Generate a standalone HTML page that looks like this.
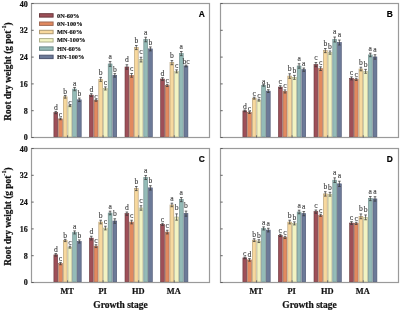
<!DOCTYPE html>
<html><head><meta charset="utf-8"><style>
html,body{margin:0;padding:0;background:#fff;width:400px;height:311px;overflow:hidden;}
svg{display:block;will-change:transform;}
</style></head><body>
<svg width="400" height="311" viewBox="0 0 400 311"><rect width="400" height="311" fill="#fff"/><rect x="53.90" y="112.55" width="3.80" height="24.45" fill="#9e4f58" stroke="#6a3a3e" stroke-width="0.6"/><path d="M55.80 113.69V111.40M54.50 111.40H57.10M54.50 113.69H57.10" stroke="#3a3a3a" stroke-width="0.75" fill="none"/><text x="55.80" y="110.00" font-family='"Liberation Serif", serif' font-size="7.6" fill="#383838" stroke="#383838" stroke-width="0.1" text-anchor="middle">d</text><rect x="58.60" y="118.91" width="3.80" height="18.09" fill="#e2895e" stroke="#a06a55" stroke-width="0.6"/><path d="M60.50 119.77V118.05M59.20 118.05H61.80M59.20 119.77H61.80" stroke="#3a3a3a" stroke-width="0.75" fill="none"/><text x="60.50" y="117.00" font-family='"Liberation Serif", serif' font-size="7.6" fill="#383838" stroke="#383838" stroke-width="0.1" text-anchor="middle">c</text><rect x="63.30" y="96.80" width="3.80" height="40.20" fill="#f7d89e" stroke="#b09a72" stroke-width="0.6"/><path d="M65.20 98.15V95.45M63.90 95.45H66.50M63.90 98.15H66.50" stroke="#3a3a3a" stroke-width="0.75" fill="none"/><text x="65.20" y="93.80" font-family='"Liberation Serif", serif' font-size="7.6" fill="#383838" stroke="#383838" stroke-width="0.1" text-anchor="middle">b</text><rect x="68.00" y="105.84" width="3.80" height="31.16" fill="#f2f3c2" stroke="#aeb08a" stroke-width="0.6"/><path d="M69.90 106.64V105.05M68.60 105.05H71.20M68.60 106.64H71.20" stroke="#3a3a3a" stroke-width="0.75" fill="none"/><text x="69.90" y="104.50" font-family='"Liberation Serif", serif' font-size="7.6" fill="#383838" stroke="#383838" stroke-width="0.1" text-anchor="middle">c</text><rect x="72.70" y="89.09" width="3.80" height="47.91" fill="#94bbb7" stroke="#6a8886" stroke-width="0.6"/><path d="M74.60 90.71V87.48M73.30 87.48H75.90M73.30 90.71H75.90" stroke="#3a3a3a" stroke-width="0.75" fill="none"/><text x="74.60" y="85.50" font-family='"Liberation Serif", serif' font-size="7.6" fill="#383838" stroke="#383838" stroke-width="0.1" text-anchor="middle">a</text><rect x="77.40" y="99.81" width="3.80" height="37.19" fill="#6c7a98" stroke="#4c5470" stroke-width="0.6"/><path d="M79.30 101.53V98.10M78.00 98.10H80.60M78.00 101.53H80.60" stroke="#3a3a3a" stroke-width="0.75" fill="none"/><text x="79.30" y="96.00" font-family='"Liberation Serif", serif' font-size="7.6" fill="#383838" stroke="#383838" stroke-width="0.1" text-anchor="middle">b</text><rect x="89.40" y="95.12" width="3.80" height="41.88" fill="#9e4f58" stroke="#6a3a3e" stroke-width="0.6"/><path d="M91.30 96.53V93.72M90.00 93.72H92.60M90.00 96.53H92.60" stroke="#3a3a3a" stroke-width="0.75" fill="none"/><text x="91.30" y="92.00" font-family='"Liberation Serif", serif' font-size="7.6" fill="#383838" stroke="#383838" stroke-width="0.1" text-anchor="middle">d</text><rect x="94.10" y="100.48" width="3.80" height="36.52" fill="#e2895e" stroke="#a06a55" stroke-width="0.6"/><path d="M96.00 101.28V99.69M94.70 99.69H97.30M94.70 101.28H97.30" stroke="#3a3a3a" stroke-width="0.75" fill="none"/><text x="96.00" y="99.00" font-family='"Liberation Serif", serif' font-size="7.6" fill="#383838" stroke="#383838" stroke-width="0.1" text-anchor="middle">c</text><rect x="98.80" y="79.38" width="3.80" height="57.62" fill="#f7d89e" stroke="#b09a72" stroke-width="0.6"/><path d="M100.70 81.35V77.41M99.40 77.41H102.00M99.40 81.35H102.00" stroke="#3a3a3a" stroke-width="0.75" fill="none"/><text x="100.70" y="75.00" font-family='"Liberation Serif", serif' font-size="7.6" fill="#383838" stroke="#383838" stroke-width="0.1" text-anchor="middle">b</text><rect x="103.50" y="88.42" width="3.80" height="48.58" fill="#f2f3c2" stroke="#aeb08a" stroke-width="0.6"/><path d="M105.40 89.97V86.88M104.10 86.88H106.70M104.10 89.97H106.70" stroke="#3a3a3a" stroke-width="0.75" fill="none"/><text x="105.40" y="85.00" font-family='"Liberation Serif", serif' font-size="7.6" fill="#383838" stroke="#383838" stroke-width="0.1" text-anchor="middle">c</text><rect x="108.20" y="63.97" width="3.80" height="73.03" fill="#94bbb7" stroke="#6a8886" stroke-width="0.6"/><path d="M110.10 66.34V61.60M108.80 61.60H111.40M108.80 66.34H111.40" stroke="#3a3a3a" stroke-width="0.75" fill="none"/><text x="110.10" y="58.70" font-family='"Liberation Serif", serif' font-size="7.6" fill="#383838" stroke="#383838" stroke-width="0.1" text-anchor="middle">a</text><rect x="112.90" y="75.36" width="3.80" height="61.64" fill="#6c7a98" stroke="#4c5470" stroke-width="0.6"/><path d="M114.80 77.10V73.62M113.50 73.62H116.10M113.50 77.10H116.10" stroke="#3a3a3a" stroke-width="0.75" fill="none"/><text x="114.80" y="71.50" font-family='"Liberation Serif", serif' font-size="7.6" fill="#383838" stroke="#383838" stroke-width="0.1" text-anchor="middle">b</text><rect x="125.00" y="66.98" width="3.80" height="70.02" fill="#9e4f58" stroke="#6a3a3e" stroke-width="0.6"/><path d="M126.90 69.23V64.74M125.60 64.74H128.20M125.60 69.23H128.20" stroke="#3a3a3a" stroke-width="0.75" fill="none"/><text x="126.90" y="62.00" font-family='"Liberation Serif", serif' font-size="7.6" fill="#383838" stroke="#383838" stroke-width="0.1" text-anchor="middle">d</text><rect x="129.70" y="75.36" width="3.80" height="61.64" fill="#e2895e" stroke="#a06a55" stroke-width="0.6"/><path d="M131.60 77.23V73.49M130.30 73.49H132.90M130.30 77.23H132.90" stroke="#3a3a3a" stroke-width="0.75" fill="none"/><text x="131.60" y="71.20" font-family='"Liberation Serif", serif' font-size="7.6" fill="#383838" stroke="#383838" stroke-width="0.1" text-anchor="middle">c</text><rect x="134.40" y="47.56" width="3.80" height="89.44" fill="#f7d89e" stroke="#b09a72" stroke-width="0.6"/><path d="M136.30 49.60V45.51M135.00 45.51H137.60M135.00 49.60H137.60" stroke="#3a3a3a" stroke-width="0.75" fill="none"/><text x="136.30" y="43.00" font-family='"Liberation Serif", serif' font-size="7.6" fill="#383838" stroke="#383838" stroke-width="0.1" text-anchor="middle">b</text><rect x="139.10" y="59.61" width="3.80" height="77.39" fill="#f2f3c2" stroke="#aeb08a" stroke-width="0.6"/><path d="M141.00 61.96V57.27M139.70 57.27H142.30M139.70 61.96H142.30" stroke="#3a3a3a" stroke-width="0.75" fill="none"/><text x="141.00" y="54.40" font-family='"Liberation Serif", serif' font-size="7.6" fill="#383838" stroke="#383838" stroke-width="0.1" text-anchor="middle">c</text><rect x="143.80" y="39.51" width="3.80" height="97.49" fill="#94bbb7" stroke="#6a8886" stroke-width="0.6"/><path d="M145.70 41.77V37.26M144.40 37.26H147.00M144.40 41.77H147.00" stroke="#3a3a3a" stroke-width="0.75" fill="none"/><text x="145.70" y="34.50" font-family='"Liberation Serif", serif' font-size="7.6" fill="#383838" stroke="#383838" stroke-width="0.1" text-anchor="middle">a</text><rect x="148.50" y="48.89" width="3.80" height="88.11" fill="#6c7a98" stroke="#4c5470" stroke-width="0.6"/><path d="M150.40 50.87V46.92M149.10 46.92H151.70M149.10 50.87H151.70" stroke="#3a3a3a" stroke-width="0.75" fill="none"/><text x="150.40" y="44.50" font-family='"Liberation Serif", serif' font-size="7.6" fill="#383838" stroke="#383838" stroke-width="0.1" text-anchor="middle">b</text><rect x="160.60" y="79.04" width="3.80" height="57.96" fill="#9e4f58" stroke="#6a3a3e" stroke-width="0.6"/><path d="M162.50 80.42V77.67M161.20 77.67H163.80M161.20 80.42H163.80" stroke="#3a3a3a" stroke-width="0.75" fill="none"/><text x="162.50" y="76.00" font-family='"Liberation Serif", serif' font-size="7.6" fill="#383838" stroke="#383838" stroke-width="0.1" text-anchor="middle">d</text><rect x="165.30" y="85.41" width="3.80" height="51.59" fill="#e2895e" stroke="#a06a55" stroke-width="0.6"/><path d="M167.20 86.49V84.33M165.90 84.33H168.50M165.90 86.49H168.50" stroke="#3a3a3a" stroke-width="0.75" fill="none"/><text x="167.20" y="83.00" font-family='"Liberation Serif", serif' font-size="7.6" fill="#383838" stroke="#383838" stroke-width="0.1" text-anchor="middle">c</text><rect x="170.00" y="62.63" width="3.80" height="74.37" fill="#f7d89e" stroke="#b09a72" stroke-width="0.6"/><path d="M171.90 64.71V60.55M170.60 60.55H173.20M170.60 64.71H173.20" stroke="#3a3a3a" stroke-width="0.75" fill="none"/><text x="171.90" y="58.00" font-family='"Liberation Serif", serif' font-size="7.6" fill="#383838" stroke="#383838" stroke-width="0.1" text-anchor="middle">b</text><rect x="174.70" y="71.34" width="3.80" height="65.66" fill="#f2f3c2" stroke="#aeb08a" stroke-width="0.6"/><path d="M176.60 72.84V69.84M175.30 69.84H177.90M175.30 72.84H177.90" stroke="#3a3a3a" stroke-width="0.75" fill="none"/><text x="176.60" y="68.00" font-family='"Liberation Serif", serif' font-size="7.6" fill="#383838" stroke="#383838" stroke-width="0.1" text-anchor="middle">c</text><rect x="179.40" y="53.59" width="3.80" height="83.41" fill="#94bbb7" stroke="#6a8886" stroke-width="0.6"/><path d="M181.30 55.65V51.52M180.00 51.52H182.60M180.00 55.65H182.60" stroke="#3a3a3a" stroke-width="0.75" fill="none"/><text x="181.30" y="49.00" font-family='"Liberation Serif", serif' font-size="7.6" fill="#383838" stroke="#383838" stroke-width="0.1" text-anchor="middle">a</text><rect x="184.10" y="65.98" width="3.80" height="71.02" fill="#6c7a98" stroke="#4c5470" stroke-width="0.6"/><path d="M186.00 66.87V65.09M184.70 65.09H187.30M184.70 66.87H187.30" stroke="#3a3a3a" stroke-width="0.75" fill="none"/><text x="186.00" y="64.00" font-family='"Liberation Serif", serif' font-size="7.6" fill="#383838" stroke="#383838" stroke-width="0.1" text-anchor="middle">bc</text><rect x="31.5" y="3.5" width="178" height="134" fill="none" stroke="#9a9a9a" stroke-width="1.2"/><path d="M31.5 137.50h2.2" stroke="#555" stroke-width="0.9"/><text x="27.8" y="140.30" font-family='"Liberation Serif", serif' font-weight="bold" font-size="8" fill="#111" stroke="#111" stroke-width="0.2" text-anchor="end">0</text><path d="M31.5 110.70h2.2" stroke="#555" stroke-width="0.9"/><text x="27.8" y="113.50" font-family='"Liberation Serif", serif' font-weight="bold" font-size="8" fill="#111" stroke="#111" stroke-width="0.2" text-anchor="end">8</text><path d="M31.5 83.90h2.2" stroke="#555" stroke-width="0.9"/><text x="27.8" y="86.70" font-family='"Liberation Serif", serif' font-weight="bold" font-size="8" fill="#111" stroke="#111" stroke-width="0.2" text-anchor="end">16</text><path d="M31.5 57.10h2.2" stroke="#555" stroke-width="0.9"/><text x="27.8" y="59.90" font-family='"Liberation Serif", serif' font-weight="bold" font-size="8" fill="#111" stroke="#111" stroke-width="0.2" text-anchor="end">24</text><path d="M31.5 30.30h2.2" stroke="#555" stroke-width="0.9"/><text x="27.8" y="33.10" font-family='"Liberation Serif", serif' font-weight="bold" font-size="8" fill="#111" stroke="#111" stroke-width="0.2" text-anchor="end">32</text><path d="M31.5 3.50h2.2" stroke="#555" stroke-width="0.9"/><text x="27.8" y="7.20" font-family='"Liberation Serif", serif' font-weight="bold" font-size="8" fill="#111" stroke="#111" stroke-width="0.2" text-anchor="end">40</text><path d="M67.55 137.5v-2.2" stroke="#555" stroke-width="0.8"/><path d="M103.05 137.5v-2.2" stroke="#555" stroke-width="0.8"/><path d="M138.65 137.5v-2.2" stroke="#555" stroke-width="0.8"/><path d="M174.25 137.5v-2.2" stroke="#555" stroke-width="0.8"/><text x="204.7" y="16.6" font-family='"Liberation Sans", sans-serif' font-weight="bold" font-size="8.4" fill="#000" stroke="#000" stroke-width="0.2" text-anchor="end">A</text><rect x="242.90" y="110.87" width="3.80" height="26.13" fill="#9e4f58" stroke="#6a3a3e" stroke-width="0.6"/><path d="M244.80 111.71V110.03M243.50 110.03H246.10M243.50 111.71H246.10" stroke="#3a3a3a" stroke-width="0.75" fill="none"/><text x="244.80" y="109.00" font-family='"Liberation Serif", serif' font-size="7.6" fill="#383838" stroke="#383838" stroke-width="0.1" text-anchor="middle">d</text><rect x="247.60" y="112.55" width="3.80" height="24.45" fill="#e2895e" stroke="#a06a55" stroke-width="0.6"/><path d="M249.50 113.47V111.62M248.20 111.62H250.80M248.20 113.47H250.80" stroke="#3a3a3a" stroke-width="0.75" fill="none"/><text x="249.50" y="110.50" font-family='"Liberation Serif", serif' font-size="7.6" fill="#383838" stroke="#383838" stroke-width="0.1" text-anchor="middle">c</text><rect x="252.30" y="98.14" width="3.80" height="38.86" fill="#f7d89e" stroke="#b09a72" stroke-width="0.6"/><path d="M254.20 99.10V97.18M252.90 97.18H255.50M252.90 99.10H255.50" stroke="#3a3a3a" stroke-width="0.75" fill="none"/><text x="254.20" y="96.00" font-family='"Liberation Serif", serif' font-size="7.6" fill="#383838" stroke="#383838" stroke-width="0.1" text-anchor="middle">c</text><rect x="257.00" y="100.15" width="3.80" height="36.85" fill="#f2f3c2" stroke="#aeb08a" stroke-width="0.6"/><path d="M258.90 101.12V99.18M257.60 99.18H260.20M257.60 101.12H260.20" stroke="#3a3a3a" stroke-width="0.75" fill="none"/><text x="258.90" y="98.00" font-family='"Liberation Serif", serif' font-size="7.6" fill="#383838" stroke="#383838" stroke-width="0.1" text-anchor="middle">c</text><rect x="261.70" y="85.41" width="3.80" height="51.59" fill="#94bbb7" stroke="#6a8886" stroke-width="0.6"/><path d="M263.60 86.21V84.61M262.30 84.61H264.90M262.30 86.21H264.90" stroke="#3a3a3a" stroke-width="0.75" fill="none"/><text x="263.60" y="84.00" font-family='"Liberation Serif", serif' font-size="7.6" fill="#383838" stroke="#383838" stroke-width="0.1" text-anchor="middle">a</text><rect x="266.40" y="91.11" width="3.80" height="45.89" fill="#6c7a98" stroke="#4c5470" stroke-width="0.6"/><path d="M268.30 92.50V89.71M267.00 89.71H269.60M267.00 92.50H269.60" stroke="#3a3a3a" stroke-width="0.75" fill="none"/><text x="268.30" y="88.00" font-family='"Liberation Serif", serif' font-size="7.6" fill="#383838" stroke="#383838" stroke-width="0.1" text-anchor="middle">b</text><rect x="278.40" y="87.09" width="3.80" height="49.91" fill="#9e4f58" stroke="#6a3a3e" stroke-width="0.6"/><path d="M280.30 88.47V85.70M279.00 85.70H281.60M279.00 88.47H281.60" stroke="#3a3a3a" stroke-width="0.75" fill="none"/><text x="280.30" y="84.00" font-family='"Liberation Serif", serif' font-size="7.6" fill="#383838" stroke="#383838" stroke-width="0.1" text-anchor="middle">c</text><rect x="283.10" y="91.44" width="3.80" height="45.56" fill="#e2895e" stroke="#a06a55" stroke-width="0.6"/><path d="M285.00 92.99V89.89M283.70 89.89H286.30M283.70 92.99H286.30" stroke="#3a3a3a" stroke-width="0.75" fill="none"/><text x="285.00" y="88.00" font-family='"Liberation Serif", serif' font-size="7.6" fill="#383838" stroke="#383838" stroke-width="0.1" text-anchor="middle">c</text><rect x="287.80" y="76.03" width="3.80" height="60.97" fill="#f7d89e" stroke="#b09a72" stroke-width="0.6"/><path d="M289.70 78.29V73.77M288.40 73.77H291.00M288.40 78.29H291.00" stroke="#3a3a3a" stroke-width="0.75" fill="none"/><text x="289.70" y="71.00" font-family='"Liberation Serif", serif' font-size="7.6" fill="#383838" stroke="#383838" stroke-width="0.1" text-anchor="middle">b</text><rect x="292.50" y="77.37" width="3.80" height="59.63" fill="#f2f3c2" stroke="#aeb08a" stroke-width="0.6"/><path d="M294.40 79.34V75.40M293.10 75.40H295.70M293.10 79.34H295.70" stroke="#3a3a3a" stroke-width="0.75" fill="none"/><text x="294.40" y="73.00" font-family='"Liberation Serif", serif' font-size="7.6" fill="#383838" stroke="#383838" stroke-width="0.1" text-anchor="middle">b</text><rect x="297.20" y="65.98" width="3.80" height="71.02" fill="#94bbb7" stroke="#6a8886" stroke-width="0.6"/><path d="M299.10 68.22V63.74M297.80 63.74H300.40M297.80 68.22H300.40" stroke="#3a3a3a" stroke-width="0.75" fill="none"/><text x="299.10" y="61.00" font-family='"Liberation Serif", serif' font-size="7.6" fill="#383838" stroke="#383838" stroke-width="0.1" text-anchor="middle">a</text><rect x="301.90" y="69.66" width="3.80" height="67.34" fill="#6c7a98" stroke="#4c5470" stroke-width="0.6"/><path d="M303.80 71.31V68.02M302.50 68.02H305.10M302.50 71.31H305.10" stroke="#3a3a3a" stroke-width="0.75" fill="none"/><text x="303.80" y="66.00" font-family='"Liberation Serif", serif' font-size="7.6" fill="#383838" stroke="#383838" stroke-width="0.1" text-anchor="middle">a</text><rect x="314.00" y="64.64" width="3.80" height="72.36" fill="#9e4f58" stroke="#6a3a3e" stroke-width="0.6"/><path d="M315.90 66.73V62.55M314.60 62.55H317.20M314.60 66.73H317.20" stroke="#3a3a3a" stroke-width="0.75" fill="none"/><text x="315.90" y="60.00" font-family='"Liberation Serif", serif' font-size="7.6" fill="#383838" stroke="#383838" stroke-width="0.1" text-anchor="middle">c</text><rect x="318.70" y="68.66" width="3.80" height="68.34" fill="#e2895e" stroke="#a06a55" stroke-width="0.6"/><path d="M320.60 70.53V66.79M319.30 66.79H321.90M319.30 70.53H321.90" stroke="#3a3a3a" stroke-width="0.75" fill="none"/><text x="320.60" y="64.50" font-family='"Liberation Serif", serif' font-size="7.6" fill="#383838" stroke="#383838" stroke-width="0.1" text-anchor="middle">c</text><rect x="323.40" y="50.57" width="3.80" height="86.43" fill="#f7d89e" stroke="#b09a72" stroke-width="0.6"/><path d="M325.30 52.63V48.51M324.00 48.51H326.60M324.00 52.63H326.60" stroke="#3a3a3a" stroke-width="0.75" fill="none"/><text x="325.30" y="46.00" font-family='"Liberation Serif", serif' font-size="7.6" fill="#383838" stroke="#383838" stroke-width="0.1" text-anchor="middle">b</text><rect x="328.10" y="52.58" width="3.80" height="84.42" fill="#f2f3c2" stroke="#aeb08a" stroke-width="0.6"/><path d="M330.00 54.19V50.97M328.70 50.97H331.30M328.70 54.19H331.30" stroke="#3a3a3a" stroke-width="0.75" fill="none"/><text x="330.00" y="49.00" font-family='"Liberation Serif", serif' font-size="7.6" fill="#383838" stroke="#383838" stroke-width="0.1" text-anchor="middle">b</text><rect x="332.80" y="39.51" width="3.80" height="97.49" fill="#94bbb7" stroke="#6a8886" stroke-width="0.6"/><path d="M334.70 42.00V37.03M333.40 37.03H336.00M333.40 42.00H336.00" stroke="#3a3a3a" stroke-width="0.75" fill="none"/><text x="334.70" y="34.00" font-family='"Liberation Serif", serif' font-size="7.6" fill="#383838" stroke="#383838" stroke-width="0.1" text-anchor="middle">a</text><rect x="337.50" y="42.53" width="3.80" height="94.47" fill="#6c7a98" stroke="#4c5470" stroke-width="0.6"/><path d="M339.40 45.02V40.04M338.10 40.04H340.70M338.10 45.02H340.70" stroke="#3a3a3a" stroke-width="0.75" fill="none"/><text x="339.40" y="37.00" font-family='"Liberation Serif", serif' font-size="7.6" fill="#383838" stroke="#383838" stroke-width="0.1" text-anchor="middle">a</text><rect x="349.60" y="78.38" width="3.80" height="58.62" fill="#9e4f58" stroke="#6a3a3e" stroke-width="0.6"/><path d="M351.50 79.89V76.86M350.20 76.86H352.80M350.20 79.89H352.80" stroke="#3a3a3a" stroke-width="0.75" fill="none"/><text x="351.50" y="75.00" font-family='"Liberation Serif", serif' font-size="7.6" fill="#383838" stroke="#383838" stroke-width="0.1" text-anchor="middle">c</text><rect x="354.30" y="79.38" width="3.80" height="57.62" fill="#e2895e" stroke="#a06a55" stroke-width="0.6"/><path d="M356.20 80.45V78.31M354.90 78.31H357.50M354.90 80.45H357.50" stroke="#3a3a3a" stroke-width="0.75" fill="none"/><text x="356.20" y="77.00" font-family='"Liberation Serif", serif' font-size="7.6" fill="#383838" stroke="#383838" stroke-width="0.1" text-anchor="middle">c</text><rect x="359.00" y="68.99" width="3.80" height="68.01" fill="#f7d89e" stroke="#b09a72" stroke-width="0.6"/><path d="M360.90 70.79V67.20M359.60 67.20H362.20M359.60 70.79H362.20" stroke="#3a3a3a" stroke-width="0.75" fill="none"/><text x="360.90" y="65.00" font-family='"Liberation Serif", serif' font-size="7.6" fill="#383838" stroke="#383838" stroke-width="0.1" text-anchor="middle">b</text><rect x="363.70" y="71.34" width="3.80" height="65.66" fill="#f2f3c2" stroke="#aeb08a" stroke-width="0.6"/><path d="M365.60 73.29V69.39M364.30 69.39H366.90M364.30 73.29H366.90" stroke="#3a3a3a" stroke-width="0.75" fill="none"/><text x="365.60" y="67.00" font-family='"Liberation Serif", serif' font-size="7.6" fill="#383838" stroke="#383838" stroke-width="0.1" text-anchor="middle">b</text><rect x="368.40" y="54.92" width="3.80" height="82.08" fill="#94bbb7" stroke="#6a8886" stroke-width="0.6"/><path d="M370.30 56.69V53.16M369.00 53.16H371.60M369.00 56.69H371.60" stroke="#3a3a3a" stroke-width="0.75" fill="none"/><text x="370.30" y="51.00" font-family='"Liberation Serif", serif' font-size="7.6" fill="#383838" stroke="#383838" stroke-width="0.1" text-anchor="middle">a</text><rect x="373.10" y="56.94" width="3.80" height="80.06" fill="#6c7a98" stroke="#4c5470" stroke-width="0.6"/><path d="M375.00 59.16V54.71M373.70 54.71H376.30M373.70 59.16H376.30" stroke="#3a3a3a" stroke-width="0.75" fill="none"/><text x="375.00" y="52.00" font-family='"Liberation Serif", serif' font-size="7.6" fill="#383838" stroke="#383838" stroke-width="0.1" text-anchor="middle">a</text><rect x="220.5" y="3.5" width="178" height="134" fill="none" stroke="#9a9a9a" stroke-width="1.2"/><path d="M220.5 137.50h2.2" stroke="#555" stroke-width="0.9"/><path d="M220.5 110.70h2.2" stroke="#555" stroke-width="0.9"/><path d="M220.5 83.90h2.2" stroke="#555" stroke-width="0.9"/><path d="M220.5 57.10h2.2" stroke="#555" stroke-width="0.9"/><path d="M220.5 30.30h2.2" stroke="#555" stroke-width="0.9"/><path d="M220.5 3.50h2.2" stroke="#555" stroke-width="0.9"/><path d="M256.55 137.5v-2.2" stroke="#555" stroke-width="0.8"/><path d="M292.05 137.5v-2.2" stroke="#555" stroke-width="0.8"/><path d="M327.65 137.5v-2.2" stroke="#555" stroke-width="0.8"/><path d="M363.25 137.5v-2.2" stroke="#555" stroke-width="0.8"/><text x="392.7" y="16.6" font-family='"Liberation Sans", sans-serif' font-weight="bold" font-size="8.4" fill="#000" stroke="#000" stroke-width="0.2" text-anchor="end">B</text><rect x="53.90" y="254.87" width="3.80" height="27.13" fill="#9e4f58" stroke="#6a3a3e" stroke-width="0.6"/><path d="M55.80 256.15V253.58M54.50 253.58H57.10M54.50 256.15H57.10" stroke="#3a3a3a" stroke-width="0.75" fill="none"/><text x="55.80" y="252.00" font-family='"Liberation Serif", serif' font-size="7.6" fill="#383838" stroke="#383838" stroke-width="0.1" text-anchor="middle">d</text><rect x="58.60" y="263.57" width="3.80" height="18.43" fill="#e2895e" stroke="#a06a55" stroke-width="0.6"/><path d="M60.50 264.73V262.42M59.20 262.42H61.80M59.20 264.73H61.80" stroke="#3a3a3a" stroke-width="0.75" fill="none"/><text x="60.50" y="261.00" font-family='"Liberation Serif", serif' font-size="7.6" fill="#383838" stroke="#383838" stroke-width="0.1" text-anchor="middle">c</text><rect x="63.30" y="240.46" width="3.80" height="41.54" fill="#f7d89e" stroke="#b09a72" stroke-width="0.6"/><path d="M65.20 241.57V239.35M63.90 239.35H66.50M63.90 241.57H66.50" stroke="#3a3a3a" stroke-width="0.75" fill="none"/><text x="65.20" y="238.00" font-family='"Liberation Serif", serif' font-size="7.6" fill="#383838" stroke="#383838" stroke-width="0.1" text-anchor="middle">b</text><rect x="68.00" y="247.16" width="3.80" height="34.84" fill="#f2f3c2" stroke="#aeb08a" stroke-width="0.6"/><path d="M69.90 248.13V246.19M68.60 246.19H71.20M68.60 248.13H71.20" stroke="#3a3a3a" stroke-width="0.75" fill="none"/><text x="69.90" y="245.00" font-family='"Liberation Serif", serif' font-size="7.6" fill="#383838" stroke="#383838" stroke-width="0.1" text-anchor="middle">c</text><rect x="72.70" y="232.42" width="3.80" height="49.58" fill="#94bbb7" stroke="#6a8886" stroke-width="0.6"/><path d="M74.60 233.96V230.88M73.30 230.88H75.90M73.30 233.96H75.90" stroke="#3a3a3a" stroke-width="0.75" fill="none"/><text x="74.60" y="229.00" font-family='"Liberation Serif", serif' font-size="7.6" fill="#383838" stroke="#383838" stroke-width="0.1" text-anchor="middle">a</text><rect x="77.40" y="241.47" width="3.80" height="40.53" fill="#6c7a98" stroke="#4c5470" stroke-width="0.6"/><path d="M79.30 243.02V239.91M78.00 239.91H80.60M78.00 243.02H80.60" stroke="#3a3a3a" stroke-width="0.75" fill="none"/><text x="79.30" y="238.00" font-family='"Liberation Serif", serif' font-size="7.6" fill="#383838" stroke="#383838" stroke-width="0.1" text-anchor="middle">b</text><rect x="89.40" y="238.12" width="3.80" height="43.88" fill="#9e4f58" stroke="#6a3a3e" stroke-width="0.6"/><path d="M91.30 239.97V236.26M90.00 236.26H92.60M90.00 239.97H92.60" stroke="#3a3a3a" stroke-width="0.75" fill="none"/><text x="91.30" y="234.00" font-family='"Liberation Serif", serif' font-size="7.6" fill="#383838" stroke="#383838" stroke-width="0.1" text-anchor="middle">d</text><rect x="94.10" y="246.16" width="3.80" height="35.84" fill="#e2895e" stroke="#a06a55" stroke-width="0.6"/><path d="M96.00 247.57V244.74M94.70 244.74H97.30M94.70 247.57H97.30" stroke="#3a3a3a" stroke-width="0.75" fill="none"/><text x="96.00" y="243.00" font-family='"Liberation Serif", serif' font-size="7.6" fill="#383838" stroke="#383838" stroke-width="0.1" text-anchor="middle">c</text><rect x="98.80" y="222.03" width="3.80" height="59.97" fill="#f7d89e" stroke="#b09a72" stroke-width="0.6"/><path d="M100.70 223.85V220.22M99.40 220.22H102.00M99.40 223.85H102.00" stroke="#3a3a3a" stroke-width="0.75" fill="none"/><text x="100.70" y="218.00" font-family='"Liberation Serif", serif' font-size="7.6" fill="#383838" stroke="#383838" stroke-width="0.1" text-anchor="middle">b</text><rect x="103.50" y="228.06" width="3.80" height="53.94" fill="#f2f3c2" stroke="#aeb08a" stroke-width="0.6"/><path d="M105.40 229.89V226.24M104.10 226.24H106.70M104.10 229.89H106.70" stroke="#3a3a3a" stroke-width="0.75" fill="none"/><text x="105.40" y="224.00" font-family='"Liberation Serif", serif' font-size="7.6" fill="#383838" stroke="#383838" stroke-width="0.1" text-anchor="middle">c</text><rect x="108.20" y="212.99" width="3.80" height="69.01" fill="#94bbb7" stroke="#6a8886" stroke-width="0.6"/><path d="M110.10 214.79V211.19M108.80 211.19H111.40M108.80 214.79H111.40" stroke="#3a3a3a" stroke-width="0.75" fill="none"/><text x="110.10" y="209.00" font-family='"Liberation Serif", serif' font-size="7.6" fill="#383838" stroke="#383838" stroke-width="0.1" text-anchor="middle">a</text><rect x="112.90" y="221.03" width="3.80" height="60.97" fill="#6c7a98" stroke="#4c5470" stroke-width="0.6"/><path d="M114.80 223.29V218.77M113.50 218.77H116.10M113.50 223.29H116.10" stroke="#3a3a3a" stroke-width="0.75" fill="none"/><text x="114.80" y="216.00" font-family='"Liberation Serif", serif' font-size="7.6" fill="#383838" stroke="#383838" stroke-width="0.1" text-anchor="middle">b</text><rect x="125.00" y="213.66" width="3.80" height="68.34" fill="#9e4f58" stroke="#6a3a3e" stroke-width="0.6"/><path d="M126.90 215.31V212.01M125.60 212.01H128.20M125.60 215.31H128.20" stroke="#3a3a3a" stroke-width="0.75" fill="none"/><text x="126.90" y="210.00" font-family='"Liberation Serif", serif' font-size="7.6" fill="#383838" stroke="#383838" stroke-width="0.1" text-anchor="middle">d</text><rect x="129.70" y="222.03" width="3.80" height="59.97" fill="#e2895e" stroke="#a06a55" stroke-width="0.6"/><path d="M131.60 223.85V220.22M130.30 220.22H132.90M130.30 223.85H132.90" stroke="#3a3a3a" stroke-width="0.75" fill="none"/><text x="131.60" y="218.00" font-family='"Liberation Serif", serif' font-size="7.6" fill="#383838" stroke="#383838" stroke-width="0.1" text-anchor="middle">c</text><rect x="134.40" y="188.53" width="3.80" height="93.47" fill="#f7d89e" stroke="#b09a72" stroke-width="0.6"/><path d="M136.30 190.58V186.49M135.00 186.49H137.60M135.00 190.58H137.60" stroke="#3a3a3a" stroke-width="0.75" fill="none"/><text x="136.30" y="184.00" font-family='"Liberation Serif", serif' font-size="7.6" fill="#383838" stroke="#383838" stroke-width="0.1" text-anchor="middle">b</text><rect x="139.10" y="207.96" width="3.80" height="74.04" fill="#f2f3c2" stroke="#aeb08a" stroke-width="0.6"/><path d="M141.00 210.20V205.73M139.70 205.73H142.30M139.70 210.20H142.30" stroke="#3a3a3a" stroke-width="0.75" fill="none"/><text x="141.00" y="203.00" font-family='"Liberation Serif", serif' font-size="7.6" fill="#383838" stroke="#383838" stroke-width="0.1" text-anchor="middle">c</text><rect x="143.80" y="177.48" width="3.80" height="104.52" fill="#94bbb7" stroke="#6a8886" stroke-width="0.6"/><path d="M145.70 179.50V175.46M144.40 175.46H147.00M144.40 179.50H147.00" stroke="#3a3a3a" stroke-width="0.75" fill="none"/><text x="145.70" y="173.00" font-family='"Liberation Serif", serif' font-size="7.6" fill="#383838" stroke="#383838" stroke-width="0.1" text-anchor="middle">a</text><rect x="148.50" y="187.87" width="3.80" height="94.13" fill="#6c7a98" stroke="#4c5470" stroke-width="0.6"/><path d="M150.40 190.05V185.68M149.10 185.68H151.70M149.10 190.05H151.70" stroke="#3a3a3a" stroke-width="0.75" fill="none"/><text x="150.40" y="183.00" font-family='"Liberation Serif", serif' font-size="7.6" fill="#383838" stroke="#383838" stroke-width="0.1" text-anchor="middle">b</text><rect x="160.60" y="224.38" width="3.80" height="57.62" fill="#9e4f58" stroke="#6a3a3e" stroke-width="0.6"/><path d="M162.50 225.45V223.31M161.20 223.31H163.80M161.20 225.45H163.80" stroke="#3a3a3a" stroke-width="0.75" fill="none"/><text x="162.50" y="222.00" font-family='"Liberation Serif", serif' font-size="7.6" fill="#383838" stroke="#383838" stroke-width="0.1" text-anchor="middle">c</text><rect x="165.30" y="232.09" width="3.80" height="49.91" fill="#e2895e" stroke="#a06a55" stroke-width="0.6"/><path d="M167.20 233.92V230.25M165.90 230.25H168.50M165.90 233.92H168.50" stroke="#3a3a3a" stroke-width="0.75" fill="none"/><text x="167.20" y="228.00" font-family='"Liberation Serif", serif' font-size="7.6" fill="#383838" stroke="#383838" stroke-width="0.1" text-anchor="middle">c</text><rect x="170.00" y="204.95" width="3.80" height="77.05" fill="#f7d89e" stroke="#b09a72" stroke-width="0.6"/><path d="M171.90 206.73V203.17M170.60 203.17H173.20M170.60 206.73H173.20" stroke="#3a3a3a" stroke-width="0.75" fill="none"/><text x="171.90" y="201.00" font-family='"Liberation Serif", serif' font-size="7.6" fill="#383838" stroke="#383838" stroke-width="0.1" text-anchor="middle">a</text><rect x="174.70" y="217.01" width="3.80" height="64.99" fill="#f2f3c2" stroke="#aeb08a" stroke-width="0.6"/><path d="M176.60 220.16V213.86M175.30 213.86H177.90M175.30 220.16H177.90" stroke="#3a3a3a" stroke-width="0.75" fill="none"/><text x="176.60" y="210.00" font-family='"Liberation Serif", serif' font-size="7.6" fill="#383838" stroke="#383838" stroke-width="0.1" text-anchor="middle">b</text><rect x="179.40" y="199.59" width="3.80" height="82.41" fill="#94bbb7" stroke="#6a8886" stroke-width="0.6"/><path d="M181.30 201.66V197.52M180.00 197.52H182.60M180.00 201.66H182.60" stroke="#3a3a3a" stroke-width="0.75" fill="none"/><text x="181.30" y="195.00" font-family='"Liberation Serif", serif' font-size="7.6" fill="#383838" stroke="#383838" stroke-width="0.1" text-anchor="middle">a</text><rect x="184.10" y="213.66" width="3.80" height="68.34" fill="#6c7a98" stroke="#4c5470" stroke-width="0.6"/><path d="M186.00 216.21V211.11M184.70 211.11H187.30M184.70 216.21H187.30" stroke="#3a3a3a" stroke-width="0.75" fill="none"/><text x="186.00" y="208.00" font-family='"Liberation Serif", serif' font-size="7.6" fill="#383838" stroke="#383838" stroke-width="0.1" text-anchor="middle">b</text><rect x="31.5" y="148.5" width="178" height="134" fill="none" stroke="#9a9a9a" stroke-width="1.2"/><path d="M31.5 282.50h2.2" stroke="#555" stroke-width="0.9"/><text x="27.8" y="285.30" font-family='"Liberation Serif", serif' font-weight="bold" font-size="8" fill="#111" stroke="#111" stroke-width="0.2" text-anchor="end">0</text><path d="M31.5 255.70h2.2" stroke="#555" stroke-width="0.9"/><text x="27.8" y="258.50" font-family='"Liberation Serif", serif' font-weight="bold" font-size="8" fill="#111" stroke="#111" stroke-width="0.2" text-anchor="end">8</text><path d="M31.5 228.90h2.2" stroke="#555" stroke-width="0.9"/><text x="27.8" y="231.70" font-family='"Liberation Serif", serif' font-weight="bold" font-size="8" fill="#111" stroke="#111" stroke-width="0.2" text-anchor="end">16</text><path d="M31.5 202.10h2.2" stroke="#555" stroke-width="0.9"/><text x="27.8" y="204.90" font-family='"Liberation Serif", serif' font-weight="bold" font-size="8" fill="#111" stroke="#111" stroke-width="0.2" text-anchor="end">24</text><path d="M31.5 175.30h2.2" stroke="#555" stroke-width="0.9"/><text x="27.8" y="178.10" font-family='"Liberation Serif", serif' font-weight="bold" font-size="8" fill="#111" stroke="#111" stroke-width="0.2" text-anchor="end">32</text><path d="M31.5 148.50h2.2" stroke="#555" stroke-width="0.9"/><text x="27.8" y="152.20" font-family='"Liberation Serif", serif' font-weight="bold" font-size="8" fill="#111" stroke="#111" stroke-width="0.2" text-anchor="end">40</text><path d="M67.55 282.5v-2.2" stroke="#555" stroke-width="0.8"/><path d="M103.05 282.5v-2.2" stroke="#555" stroke-width="0.8"/><path d="M138.65 282.5v-2.2" stroke="#555" stroke-width="0.8"/><path d="M174.25 282.5v-2.2" stroke="#555" stroke-width="0.8"/><text x="204.7" y="161.6" font-family='"Liberation Sans", sans-serif' font-weight="bold" font-size="8.4" fill="#000" stroke="#000" stroke-width="0.2" text-anchor="end">C</text><text x="67.15" y="293.9" font-family='"Liberation Serif", serif' font-weight="bold" font-size="8.4" fill="#111" stroke="#111" stroke-width="0.2" text-anchor="middle">MT</text><text x="102.65" y="293.9" font-family='"Liberation Serif", serif' font-weight="bold" font-size="8.4" fill="#111" stroke="#111" stroke-width="0.2" text-anchor="middle">PI</text><text x="138.25" y="293.9" font-family='"Liberation Serif", serif' font-weight="bold" font-size="8.4" fill="#111" stroke="#111" stroke-width="0.2" text-anchor="middle">HD</text><text x="173.85" y="293.9" font-family='"Liberation Serif", serif' font-weight="bold" font-size="8.4" fill="#111" stroke="#111" stroke-width="0.2" text-anchor="middle">MA</text><text x="120.50" y="308.2" font-family='"Liberation Serif", serif' font-weight="bold" font-size="9.5" fill="#111" stroke="#111" stroke-width="0.2" text-anchor="middle">Growth stage</text><rect x="242.90" y="257.88" width="3.80" height="24.12" fill="#9e4f58" stroke="#6a3a3e" stroke-width="0.6"/><path d="M244.80 258.73V257.03M243.50 257.03H246.10M243.50 258.73H246.10" stroke="#3a3a3a" stroke-width="0.75" fill="none"/><text x="244.80" y="256.00" font-family='"Liberation Serif", serif' font-size="7.6" fill="#383838" stroke="#383838" stroke-width="0.1" text-anchor="middle">c</text><rect x="247.60" y="259.89" width="3.80" height="22.11" fill="#e2895e" stroke="#a06a55" stroke-width="0.6"/><path d="M249.50 261.19V258.59M248.20 258.59H250.80M248.20 261.19H250.80" stroke="#3a3a3a" stroke-width="0.75" fill="none"/><text x="249.50" y="257.00" font-family='"Liberation Serif", serif' font-size="7.6" fill="#383838" stroke="#383838" stroke-width="0.1" text-anchor="middle">d</text><rect x="252.30" y="240.12" width="3.80" height="41.88" fill="#f7d89e" stroke="#b09a72" stroke-width="0.6"/><path d="M254.20 241.53V238.72M252.90 238.72H255.50M252.90 241.53H255.50" stroke="#3a3a3a" stroke-width="0.75" fill="none"/><text x="254.20" y="237.00" font-family='"Liberation Serif", serif' font-size="7.6" fill="#383838" stroke="#383838" stroke-width="0.1" text-anchor="middle">b</text><rect x="257.00" y="241.13" width="3.80" height="40.87" fill="#f2f3c2" stroke="#aeb08a" stroke-width="0.6"/><path d="M258.90 242.54V239.72M257.60 239.72H260.20M257.60 242.54H260.20" stroke="#3a3a3a" stroke-width="0.75" fill="none"/><text x="258.90" y="238.00" font-family='"Liberation Serif", serif' font-size="7.6" fill="#383838" stroke="#383838" stroke-width="0.1" text-anchor="middle">b</text><rect x="261.70" y="228.40" width="3.80" height="53.60" fill="#94bbb7" stroke="#6a8886" stroke-width="0.6"/><path d="M263.60 229.93V226.87M262.30 226.87H264.90M262.30 229.93H264.90" stroke="#3a3a3a" stroke-width="0.75" fill="none"/><text x="263.60" y="225.00" font-family='"Liberation Serif", serif' font-size="7.6" fill="#383838" stroke="#383838" stroke-width="0.1" text-anchor="middle">a</text><rect x="266.40" y="230.07" width="3.80" height="51.93" fill="#6c7a98" stroke="#4c5470" stroke-width="0.6"/><path d="M268.30 231.91V228.24M267.00 228.24H269.60M267.00 231.91H269.60" stroke="#3a3a3a" stroke-width="0.75" fill="none"/><text x="268.30" y="226.00" font-family='"Liberation Serif", serif' font-size="7.6" fill="#383838" stroke="#383838" stroke-width="0.1" text-anchor="middle">a</text><rect x="278.40" y="235.44" width="3.80" height="46.56" fill="#9e4f58" stroke="#6a3a3e" stroke-width="0.6"/><path d="M280.30 236.53V234.34M279.00 234.34H281.60M279.00 236.53H281.60" stroke="#3a3a3a" stroke-width="0.75" fill="none"/><text x="280.30" y="233.00" font-family='"Liberation Serif", serif' font-size="7.6" fill="#383838" stroke="#383838" stroke-width="0.1" text-anchor="middle">c</text><rect x="283.10" y="237.44" width="3.80" height="44.56" fill="#e2895e" stroke="#a06a55" stroke-width="0.6"/><path d="M285.00 238.55V236.34M283.70 236.34H286.30M283.70 238.55H286.30" stroke="#3a3a3a" stroke-width="0.75" fill="none"/><text x="285.00" y="235.00" font-family='"Liberation Serif", serif' font-size="7.6" fill="#383838" stroke="#383838" stroke-width="0.1" text-anchor="middle">c</text><rect x="287.80" y="222.03" width="3.80" height="59.97" fill="#f7d89e" stroke="#b09a72" stroke-width="0.6"/><path d="M289.70 223.85V220.22M288.40 220.22H291.00M288.40 223.85H291.00" stroke="#3a3a3a" stroke-width="0.75" fill="none"/><text x="289.70" y="218.00" font-family='"Liberation Serif", serif' font-size="7.6" fill="#383838" stroke="#383838" stroke-width="0.1" text-anchor="middle">b</text><rect x="292.50" y="223.38" width="3.80" height="58.62" fill="#f2f3c2" stroke="#aeb08a" stroke-width="0.6"/><path d="M294.40 224.89V221.86M293.10 221.86H295.70M293.10 224.89H295.70" stroke="#3a3a3a" stroke-width="0.75" fill="none"/><text x="294.40" y="220.00" font-family='"Liberation Serif", serif' font-size="7.6" fill="#383838" stroke="#383838" stroke-width="0.1" text-anchor="middle">b</text><rect x="297.20" y="211.99" width="3.80" height="70.01" fill="#94bbb7" stroke="#6a8886" stroke-width="0.6"/><path d="M299.10 213.78V210.19M297.80 210.19H300.40M297.80 213.78H300.40" stroke="#3a3a3a" stroke-width="0.75" fill="none"/><text x="299.10" y="208.00" font-family='"Liberation Serif", serif' font-size="7.6" fill="#383838" stroke="#383838" stroke-width="0.1" text-anchor="middle">a</text><rect x="301.90" y="213.66" width="3.80" height="68.34" fill="#6c7a98" stroke="#4c5470" stroke-width="0.6"/><path d="M303.80 215.76V211.56M302.50 211.56H305.10M302.50 215.76H305.10" stroke="#3a3a3a" stroke-width="0.75" fill="none"/><text x="303.80" y="209.00" font-family='"Liberation Serif", serif' font-size="7.6" fill="#383838" stroke="#383838" stroke-width="0.1" text-anchor="middle">a</text><rect x="314.00" y="211.65" width="3.80" height="70.35" fill="#9e4f58" stroke="#6a3a3e" stroke-width="0.6"/><path d="M315.90 213.29V210.01M314.60 210.01H317.20M314.60 213.29H317.20" stroke="#3a3a3a" stroke-width="0.75" fill="none"/><text x="315.90" y="208.00" font-family='"Liberation Serif", serif' font-size="7.6" fill="#383838" stroke="#383838" stroke-width="0.1" text-anchor="middle">c</text><rect x="318.70" y="215.34" width="3.80" height="66.66" fill="#e2895e" stroke="#a06a55" stroke-width="0.6"/><path d="M320.60 216.39V214.28M319.30 214.28H321.90M319.30 216.39H321.90" stroke="#3a3a3a" stroke-width="0.75" fill="none"/><text x="320.60" y="213.00" font-family='"Liberation Serif", serif' font-size="7.6" fill="#383838" stroke="#383838" stroke-width="0.1" text-anchor="middle">c</text><rect x="323.40" y="193.89" width="3.80" height="88.11" fill="#f7d89e" stroke="#b09a72" stroke-width="0.6"/><path d="M325.30 196.10V191.69M324.00 191.69H326.60M324.00 196.10H326.60" stroke="#3a3a3a" stroke-width="0.75" fill="none"/><text x="325.30" y="189.00" font-family='"Liberation Serif", serif' font-size="7.6" fill="#383838" stroke="#383838" stroke-width="0.1" text-anchor="middle">b</text><rect x="328.10" y="194.23" width="3.80" height="87.77" fill="#f2f3c2" stroke="#aeb08a" stroke-width="0.6"/><path d="M330.00 196.13V192.33M328.70 192.33H331.30M328.70 196.13H331.30" stroke="#3a3a3a" stroke-width="0.75" fill="none"/><text x="330.00" y="190.00" font-family='"Liberation Serif", serif' font-size="7.6" fill="#383838" stroke="#383838" stroke-width="0.1" text-anchor="middle">b</text><rect x="332.80" y="180.16" width="3.80" height="101.84" fill="#94bbb7" stroke="#6a8886" stroke-width="0.6"/><path d="M334.70 182.48V177.84M333.40 177.84H336.00M333.40 182.48H336.00" stroke="#3a3a3a" stroke-width="0.75" fill="none"/><text x="334.70" y="175.00" font-family='"Liberation Serif", serif' font-size="7.6" fill="#383838" stroke="#383838" stroke-width="0.1" text-anchor="middle">a</text><rect x="337.50" y="183.84" width="3.80" height="98.16" fill="#6c7a98" stroke="#4c5470" stroke-width="0.6"/><path d="M339.40 186.48V181.21M338.10 181.21H340.70M338.10 186.48H340.70" stroke="#3a3a3a" stroke-width="0.75" fill="none"/><text x="339.40" y="178.00" font-family='"Liberation Serif", serif' font-size="7.6" fill="#383838" stroke="#383838" stroke-width="0.1" text-anchor="middle">a</text><rect x="349.60" y="223.04" width="3.80" height="58.96" fill="#9e4f58" stroke="#6a3a3e" stroke-width="0.6"/><path d="M351.50 224.41V221.67M350.20 221.67H352.80M350.20 224.41H352.80" stroke="#3a3a3a" stroke-width="0.75" fill="none"/><text x="351.50" y="220.00" font-family='"Liberation Serif", serif' font-size="7.6" fill="#383838" stroke="#383838" stroke-width="0.1" text-anchor="middle">c</text><rect x="354.30" y="223.38" width="3.80" height="58.62" fill="#e2895e" stroke="#a06a55" stroke-width="0.6"/><path d="M356.20 224.44V222.31M354.90 222.31H357.50M354.90 224.44H357.50" stroke="#3a3a3a" stroke-width="0.75" fill="none"/><text x="356.20" y="221.00" font-family='"Liberation Serif", serif' font-size="7.6" fill="#383838" stroke="#383838" stroke-width="0.1" text-anchor="middle">c</text><rect x="359.00" y="216.34" width="3.80" height="65.66" fill="#f7d89e" stroke="#b09a72" stroke-width="0.6"/><path d="M360.90 218.74V213.94M359.60 213.94H362.20M359.60 218.74H362.20" stroke="#3a3a3a" stroke-width="0.75" fill="none"/><text x="360.90" y="211.00" font-family='"Liberation Serif", serif' font-size="7.6" fill="#383838" stroke="#383838" stroke-width="0.1" text-anchor="middle">b</text><rect x="363.70" y="217.34" width="3.80" height="64.66" fill="#f2f3c2" stroke="#aeb08a" stroke-width="0.6"/><path d="M365.60 219.75V214.94M364.30 214.94H366.90M364.30 219.75H366.90" stroke="#3a3a3a" stroke-width="0.75" fill="none"/><text x="365.60" y="212.00" font-family='"Liberation Serif", serif' font-size="7.6" fill="#383838" stroke="#383838" stroke-width="0.1" text-anchor="middle">b</text><rect x="368.40" y="198.59" width="3.80" height="83.41" fill="#94bbb7" stroke="#6a8886" stroke-width="0.6"/><path d="M370.30 200.65V196.52M369.00 196.52H371.60M369.00 200.65H371.60" stroke="#3a3a3a" stroke-width="0.75" fill="none"/><text x="370.30" y="194.00" font-family='"Liberation Serif", serif' font-size="7.6" fill="#383838" stroke="#383838" stroke-width="0.1" text-anchor="middle">a</text><rect x="373.10" y="198.92" width="3.80" height="83.08" fill="#6c7a98" stroke="#4c5470" stroke-width="0.6"/><path d="M375.00 201.13V196.71M373.70 196.71H376.30M373.70 201.13H376.30" stroke="#3a3a3a" stroke-width="0.75" fill="none"/><text x="375.00" y="194.00" font-family='"Liberation Serif", serif' font-size="7.6" fill="#383838" stroke="#383838" stroke-width="0.1" text-anchor="middle">a</text><rect x="220.5" y="148.5" width="178" height="134" fill="none" stroke="#9a9a9a" stroke-width="1.2"/><path d="M220.5 282.50h2.2" stroke="#555" stroke-width="0.9"/><path d="M220.5 255.70h2.2" stroke="#555" stroke-width="0.9"/><path d="M220.5 228.90h2.2" stroke="#555" stroke-width="0.9"/><path d="M220.5 202.10h2.2" stroke="#555" stroke-width="0.9"/><path d="M220.5 175.30h2.2" stroke="#555" stroke-width="0.9"/><path d="M220.5 148.50h2.2" stroke="#555" stroke-width="0.9"/><path d="M256.55 282.5v-2.2" stroke="#555" stroke-width="0.8"/><path d="M292.05 282.5v-2.2" stroke="#555" stroke-width="0.8"/><path d="M327.65 282.5v-2.2" stroke="#555" stroke-width="0.8"/><path d="M363.25 282.5v-2.2" stroke="#555" stroke-width="0.8"/><text x="392.7" y="161.6" font-family='"Liberation Sans", sans-serif' font-weight="bold" font-size="8.4" fill="#000" stroke="#000" stroke-width="0.2" text-anchor="end">D</text><text x="256.15" y="293.9" font-family='"Liberation Serif", serif' font-weight="bold" font-size="8.4" fill="#111" stroke="#111" stroke-width="0.2" text-anchor="middle">MT</text><text x="291.65" y="293.9" font-family='"Liberation Serif", serif' font-weight="bold" font-size="8.4" fill="#111" stroke="#111" stroke-width="0.2" text-anchor="middle">PI</text><text x="327.25" y="293.9" font-family='"Liberation Serif", serif' font-weight="bold" font-size="8.4" fill="#111" stroke="#111" stroke-width="0.2" text-anchor="middle">HD</text><text x="362.85" y="293.9" font-family='"Liberation Serif", serif' font-weight="bold" font-size="8.4" fill="#111" stroke="#111" stroke-width="0.2" text-anchor="middle">MA</text><text x="309.50" y="308.2" font-family='"Liberation Serif", serif' font-weight="bold" font-size="9.5" fill="#111" stroke="#111" stroke-width="0.2" text-anchor="middle">Growth stage</text><rect x="39.5" y="13.70" width="13.6" height="3.4" fill="#9e4f58" stroke="#6a3a3e" stroke-width="1.0"/><text x="57" y="17.50" font-family='"Liberation Serif", serif' font-weight="bold" font-size="6.3" fill="#1a1a1a" stroke="#1a1a1a" stroke-width="0.2">0N-60%</text><rect x="39.5" y="22.00" width="13.6" height="3.4" fill="#e2895e" stroke="#a06a55" stroke-width="1.0"/><text x="57" y="25.80" font-family='"Liberation Serif", serif' font-weight="bold" font-size="6.3" fill="#1a1a1a" stroke="#1a1a1a" stroke-width="0.2">0N-100%</text><rect x="39.5" y="30.30" width="13.6" height="3.4" fill="#f7d89e" stroke="#b09a72" stroke-width="1.0"/><text x="57" y="34.10" font-family='"Liberation Serif", serif' font-weight="bold" font-size="6.3" fill="#1a1a1a" stroke="#1a1a1a" stroke-width="0.2">MN-60%</text><rect x="39.5" y="38.60" width="13.6" height="3.4" fill="#f2f3c2" stroke="#aeb08a" stroke-width="1.0"/><text x="57" y="42.40" font-family='"Liberation Serif", serif' font-weight="bold" font-size="6.3" fill="#1a1a1a" stroke="#1a1a1a" stroke-width="0.2">MN-100%</text><rect x="39.5" y="46.90" width="13.6" height="3.4" fill="#94bbb7" stroke="#6a8886" stroke-width="1.0"/><text x="57" y="50.70" font-family='"Liberation Serif", serif' font-weight="bold" font-size="6.3" fill="#1a1a1a" stroke="#1a1a1a" stroke-width="0.2">HN-60%</text><rect x="39.5" y="55.20" width="13.6" height="3.4" fill="#6c7a98" stroke="#4c5470" stroke-width="1.0"/><text x="57" y="59.00" font-family='"Liberation Serif", serif' font-weight="bold" font-size="6.3" fill="#1a1a1a" stroke="#1a1a1a" stroke-width="0.2">HN-100%</text><text transform="translate(10.6 71.5) rotate(-90)" font-family='"Liberation Serif", serif' font-weight="bold" font-size="9.4" fill="#111" stroke="#111" stroke-width="0.2" text-anchor="middle">Root dry weight (g pot<tspan font-size="6.3" dy="-4.9">-1</tspan><tspan dy="4.9">)</tspan></text><text transform="translate(10.6 216.5) rotate(-90)" font-family='"Liberation Serif", serif' font-weight="bold" font-size="9.4" fill="#111" stroke="#111" stroke-width="0.2" text-anchor="middle">Root dry weight (g pot<tspan font-size="6.3" dy="-4.9">-1</tspan><tspan dy="4.9">)</tspan></text></svg>
</body></html>
